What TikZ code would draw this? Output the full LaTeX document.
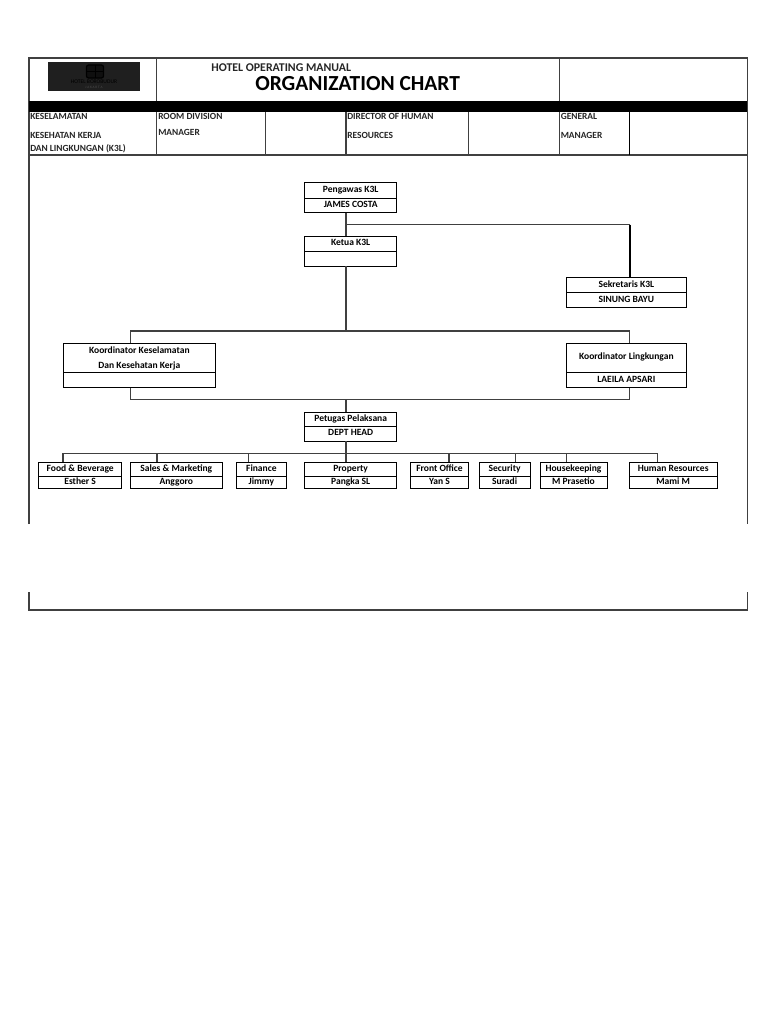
\documentclass[tikz,border=0pt]{standalone}
\usepackage{fontspec}
\setmainfont{Carlito}
\newcommand{\orgbox}[8]{%
  \pgfmathsetlengthmacro{\bw}{(#3-#2)*0.75pt}%
  \pgfmathsetlengthmacro{\hta}{(#5-#4)*0.75pt}%
  \pgfmathsetlengthmacro{\htb}{(#6-#5)*0.75pt}%
  \pgfmathsetmacro{\xc}{(#2+#3)/2}%
  \pgfmathsetmacro{\yca}{(#4+#5)/2}%
  \pgfmathsetmacro{\ycb}{(#5+#6)/2}%
  \node[cellbox,minimum width=\bw,minimum height=\hta] (#1-t) at (\xc,\yca) {#7\rule[-2.7pt]{0pt}{8.7pt}};
  \node[cellbox,minimum width=\bw,minimum height=\htb] (#1-b) at (\xc,\ycb) {#8\rule[-2.7pt]{0pt}{8.7pt}};
}
\tikzset{
  cellbox/.style={draw=black,line width=0.75pt,fill=white,inner sep=0pt,outer sep=0pt,align=center,font=\fontsize{7.15}{11.25}\selectfont\bfseries},
  frameline/.style={draw=black!75,line width=0.9pt},
  link/.style={draw=black!75,line width=0.9pt},
  headcell/.style={anchor=west,inner sep=0pt,font=\fontsize{7.05}{8}\selectfont\bfseries,text=black!85},
}
\begin{document}
\begin{tikzpicture}[x=0.75pt,y=-0.75pt]
\useasboundingbox (0,0) rectangle (768,1024);
\fill[white] (0,0) rectangle (768,1024);
% frame
\draw[frameline] (29,524) -- (29,58) -- (747.3,58) -- (747.3,524);
\draw[frameline] (29,592) -- (29,610) -- (747.3,610) -- (747.3,592);
\draw[frameline] (29,155) -- (747.3,155);
\draw[frameline] (156.3,58) -- (156.3,155);
\draw[frameline] (559.3,58) -- (559.3,155);
\draw[frameline] (265.7,112) -- (265.7,155);
\draw[frameline] (346,112) -- (346,155);
\draw[frameline] (468.3,112) -- (468.3,155);
\draw[draw=black,line width=1.3pt] (629.5,112) -- (629.5,155);
\fill[black] (29,101.3) rectangle (747.3,112);
% logo
\fill[black!88] (48.3,61.7) rectangle (140,91);
\draw[black,line width=0.9pt,fill=black!94,rounded corners=1.5pt] (86.5,65) rectangle (103.5,78);
\draw[black,line width=0.5pt] (95,65) -- (95,78) (86.5,71.5) -- (103.5,71.5);
\node[inner sep=0pt,text=black,font=\fontsize{4.2}{5}\selectfont] (logotext) at (94,81.5) {HOTEL BOROBUDUR};
\node[inner sep=0pt,text=black!70,font=\fontsize{2.6}{3}\selectfont] (logosub) at (94,87) {J A K A R T A};
% title
\node[anchor=west,inner sep=0pt,font=\fontsize{8.9}{10}\selectfont\bfseries,text=black!85] (manual) at (211,68) {HOTEL OPERATING MANUAL};
\node[anchor=west,inner sep=0pt,font=\fontsize{16.1}{18}\selectfont\bfseries] (title) at (255,84) {ORGANIZATION CHART};
% header cells
\node[headcell] (h1) at (30,116.5) {KESELAMATAN};
\node[headcell] (h2) at (30,135.5) {KESEHATAN KERJA};
\node[headcell] (h3) at (30,148.5) {DAN LINGKUNGAN (K3L)};
\node[headcell] (h4) at (158,116.5) {ROOM DIVISION};
\node[headcell] (h5) at (158,132.5) {MANAGER};
\node[headcell] (h6) at (347,116.5) {DIRECTOR OF HUMAN};
\node[headcell] (h7) at (347,135.5) {RESOURCES};
\node[headcell] (h8) at (560.5,116.5) {GENERAL};
\node[headcell] (h9) at (560.5,135.5) {MANAGER};
% boxes
\orgbox{peng}{304.7}{396.7}{182.3}{198}{212.7}{Pengawas K3L}{JAMES COSTA}
\orgbox{ketua}{304.7}{396.7}{236}{251}{266.3}{Ketua K3L}{}
\orgbox{sek}{566}{686.7}{277.3}{292.7}{307.7}{Sekretaris K3L}{SINUNG BAYU}
\orgbox{kk}{63}{215.7}{343}{372.5}{387.7}{\rule{0pt}{7.5pt}Koordinator Keselamatan\\Dan Kesehatan Kerja}{}
\orgbox{kl}{566}{686.7}{343}{372.5}{387.7}{Koordinator Lingkungan}{LAEILA APSARI}
\orgbox{pet}{304.7}{396.7}{412}{426}{441.3}{Petugas Pelaksana}{DEPT HEAD}
\orgbox{food}{38.7}{121.7}{462.3}{476}{488.7}{Food \& Beverage}{Esther S}
\orgbox{sales}{130.3}{222.3}{462.3}{476}{488.7}{Sales \& Marketing}{Anggoro}
\orgbox{fin}{236}{286.7}{462.3}{476}{488.7}{Finance}{Jimmy}
\orgbox{prop}{304.7}{396.7}{462.3}{476}{488.7}{Property}{Pangka SL}
\orgbox{front}{410.3}{468.7}{462.3}{476}{488.7}{Front Office}{Yan S}
\orgbox{sec}{479.3}{530}{462.3}{476}{488.7}{Security}{Suradi}
\orgbox{house}{540}{607}{462.3}{476}{488.7}{Housekeeping}{M Prasetio}
\orgbox{hr}{629.3}{717}{462.3}{476}{488.7}{Human Resources}{Mami M}
% junctions
\coordinate (jsek) at (346,224.7);
\coordinate (csek) at (629.7,224.7);
\coordinate (jmid) at (346,331);
\coordinate (cl) at (130.7,331);
\coordinate (cr) at (629.7,331);
\coordinate (jlow) at (346,399.7);
\coordinate (dl) at (130.7,399.7);
\coordinate (dr) at (629.7,399.7);
\coordinate (jbus) at (346,453.3);
\coordinate (dfood) at (63,453.3);
\coordinate (dsales) at (157,453.3);
\coordinate (dfin) at (248.3,453.3);
\coordinate (dfront) at (449,453.3);
\coordinate (dsec) at (515.7,453.3);
\coordinate (dhouse) at (566.3,453.3);
\coordinate (dhr) at (657.3,453.3);
% connectors
\draw[link] (peng-b.south -| jsek) -- (ketua-t.north -| jsek);
\draw[link] (jsek) -- (csek);
\draw[draw=black,line width=1.2pt] (csek) -- (csek |- sek-t.north);
\draw[link] (ketua-b.south -| jmid) -- (jmid);
\draw[link] (cl |- kk-t.north) -- (cl) -- (cr) -- (cr |- kl-t.north);
\draw[link] (dl |- kk-b.south) -- (dl) -- (dr) -- (dr |- kl-b.south);
\draw[link] (jlow) -- (jlow |- pet-t.north);
\draw[link] (pet-b.south -| jbus) -- (jbus);
\draw[link] (dfood) -- (dhr);
\draw[link] (jbus) -- (jbus |- prop-t.north);
\draw[link] (dfood) -- (dfood |- food-t.north);
\draw[link] (dsales) -- (dsales |- sales-t.north);
\draw[link] (dfin) -- (dfin |- fin-t.north);
\draw[link] (dfront) -- (dfront |- front-t.north);
\draw[link] (dsec) -- (dsec |- sec-t.north);
\draw[link] (dhouse) -- (dhouse |- house-t.north);
\draw[link] (dhr) -- (dhr |- hr-t.north);
\end{tikzpicture}
\end{document}
